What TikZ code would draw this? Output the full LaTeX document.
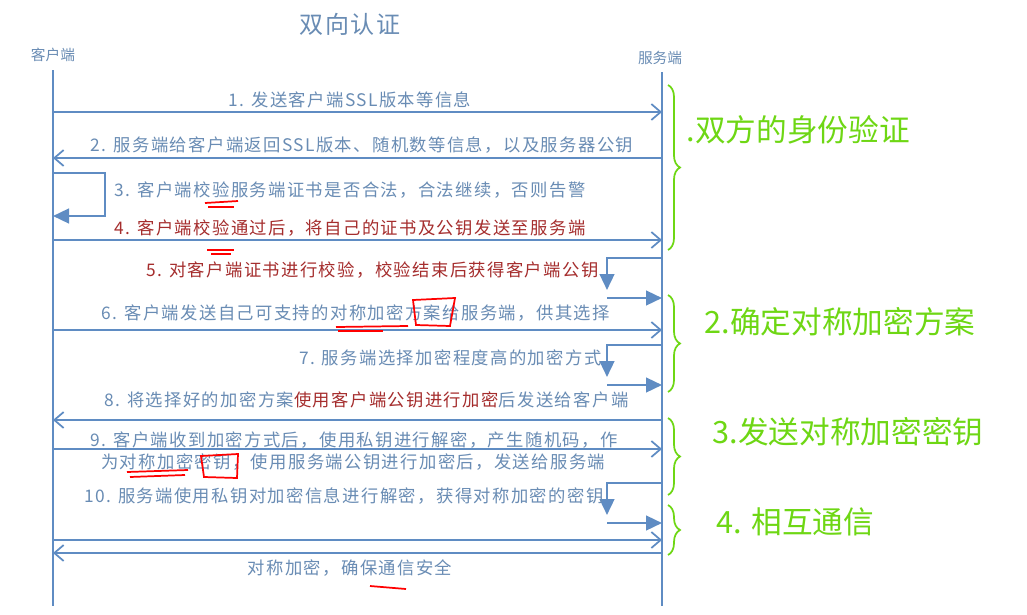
\documentclass[tikz,border=0pt]{standalone}
\usepackage{fontspec}
\setmainfont{Noto Sans CJK SC}
\newfontfamily\lbf[LetterSpace=8]{Noto Sans CJK SC}
\usetikzlibrary{arrows.meta,decorations.pathreplacing}
\definecolor{ln}{RGB}{95,140,195}
\definecolor{tb}{RGB}{105,140,180}
\definecolor{tr}{RGB}{165,45,45}
\definecolor{gr}{RGB}{110,215,20}
\tikzset{
 msg/.style={ln,line width=1.3pt,-{Straight Barb[length=7pt,width=12pt]}},
 loop/.style={ln,line width=1.8pt,-{Triangle[length=12pt,width=11pt]}},
 lab/.style={font=\lbf\fontsize{13}{16.5}\selectfont,tb,inner sep=1pt},
 hand/.style={font=\fontsize{23}{26}\selectfont,gr,anchor=west},
 brc/.style={gr,line width=1.3pt,decorate,decoration={brace,amplitude=9pt}},
 redmark/.style={red,line width=1.3pt},
}
\begin{document}
\begin{tikzpicture}[x=0.75pt,y=-0.75pt]
\useasboundingbox (0,0) rectangle (1027,614);
\fill[white] (0,0) rectangle (1027,614);
\node[font=\lbf\fontsize{18}{20}\selectfont,tb] (title) at (350,24) {双向认证};
\node[font=\fontsize{11}{13}\selectfont,tb] (cl) at (53,55) {客户端};
\node[font=\fontsize{11}{13}\selectfont,tb] (sv) at (660,58) {服务端};
\coordinate (ct) at (53,70); \coordinate (cb) at (53,606);
\coordinate (st) at (662,72); \coordinate (sb) at (662,606);
\draw[ln,line width=1.5pt] (ct) -- (cb);
\draw[ln,line width=1.5pt] (st) -- (sb);
% 1
\draw[msg] (53,112) -- (662,112);
\node[lab] (m1) at (350,100) {1. 发送客户端SSL版本等信息};
% 2
\draw[msg] (662,158) -- (53,158);
\node[lab] (m2) at (362,145) {2. 服务端给客户端返回SSL版本、随机数等信息，以及服务器公钥};
% 3
\draw[loop] (53,173) -- (105,173) -- (105,216) -- (53,216);
\node[lab,anchor=west] (m3) at (113,190) {3. 客户端校验服务端证书是否合法，合法继续，否则告警};
% 4
\draw[msg] (53,240) -- (662,240);
\node[lab,tr,anchor=west] (m4) at (113,228) {4. 客户端校验通过后，将自己的证书及公钥发送至服务端};
% 5
\draw[loop] (662,258) -- (607,258) -- (607,290);
\draw[loop] (607,298) -- (662,298);
\node[lab,tr,anchor=east] (m5) at (600,270) {5. 对客户端证书进行校验，校验结束后获得客户端公钥};
% 6
\draw[msg] (53,330) -- (662,330);
\node[lab,anchor=west] (m6) at (100,313) {6. 客户端发送自己可支持的对称加密方案给服务端，供其选择};
% 7
\draw[loop] (662,345) -- (607,345) -- (607,377);
\draw[loop] (607,385) -- (662,385);
\node[lab,anchor=east] (m7) at (603,358) {7. 服务端选择加密程度高的加密方式};
% 8
\draw[msg] (662,420) -- (53,420);
\node[lab,anchor=east] (m8) at (630,400) {8. 将选择好的加密方案\textcolor{tr}{使用客户端公钥进行加密}后发送给客户端};
% 9
\draw[msg] (53,449) -- (662,449);
\node[lab,anchor=west,align=left] (m9) at (89,451) {9. 客户端收到加密方式后，使用私钥进行解密，产生随机码，作\\\ \ 为对称加密密钥，使用服务端公钥进行加密后，发送给服务端};
% 10
\draw[loop] (662,483) -- (607,483) -- (607,515);
\draw[loop] (607,523) -- (662,523);
\node[lab,anchor=east] (m10) at (605,496) {10. 服务端使用私钥对加密信息进行解密，获得对称加密的密钥};
% final
\draw[msg] (53,540) -- (662,540);
\draw[msg] (662,553) -- (53,553);
\node[lab] (m11) at (350,568) {对称加密，确保通信安全};
% red marks
\draw[redmark] (205,203) -- (238,201); \draw[redmark] (208,207) -- (234,207);
\draw[redmark] (207,250) -- (234,250); \draw[redmark] (211,254) -- (231,254);
\draw[redmark] (336,327) -- (408,326); \draw[redmark] (338,331) -- (383,331);
\draw[redmark] (413,300) -- (455,298) -- (450,326) -- (416,325) -- cycle;
\draw[redmark] (127,472) -- (188,470); \draw[redmark] (130,477) -- (185,475);
\draw[redmark] (201,456) -- (238,454) -- (237,478) -- (204,477) -- cycle;
\draw[redmark] (370,586) -- (406,589);
% green annotations
\draw[brc] (668,85) -- (668,250);
\node[hand] (h1) at (682,130) {.双方的身份验证};
\draw[brc] (668,295) -- (668,392);
\node[hand] (h2) at (700,322) {2.确定对称加密方案};
\draw[brc] (668,418) -- (668,495);
\node[hand] (h3) at (708,432) {3.发送对称加密密钥};
\draw[brc] (668,505) -- (668,555);
\node[hand] (h4) at (712,522) {4. 相互通信};
\end{tikzpicture}
\end{document}
